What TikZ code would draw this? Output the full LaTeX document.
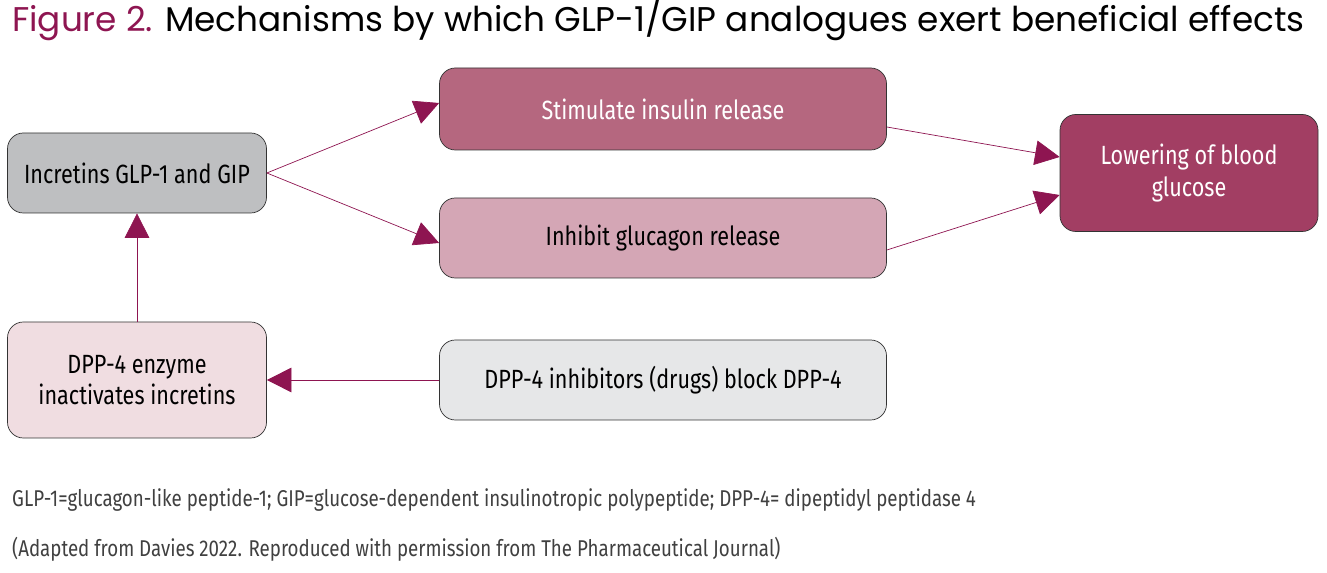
\documentclass[tikz,border=0pt]{standalone}
\usepackage{fontspec}
\setmainfont{Fira Sans}[FakeStretch=0.82]
\newfontfamily\titlefont{Poppins}
\usetikzlibrary{arrows.meta}
\definecolor{plum}{HTML}{8E1551}
\definecolor{stimcol}{HTML}{B5677F}
\definecolor{inhcol}{HTML}{D4A6B5}
\definecolor{lowcol}{HTML}{A23E63}
\definecolor{inccol}{HTML}{BEBFC1}
\definecolor{enzcol}{HTML}{F0DDE1}
\definecolor{drugcol}{HTML}{E6E7E8}
\tikzset{
  box/.style={draw=black!80,rounded corners=9pt,align=center,inner sep=0pt,font=\fontsize{15}{18}\selectfont},
  link/.style={plum,-{Triangle[length=14pt,width=14pt]}}
}
\begin{document}
\begin{tikzpicture}[x=0.02cm,y=-0.02cm]
    \useasboundingbox (0,0) rectangle (1327,573);
    \node[anchor=west,font=\titlefont\fontsize{19.5}{22}\selectfont] (Title) at (6,20)
      {\textcolor{plum}{Figure 2.} Mechanisms by which GLP-1/GIP analogues exert beneficial effects};

    \node[box,fill=stimcol,text=white,minimum width=447*0.02cm,minimum height=82*0.02cm] (Stim) at (663,109) {Stimulate insulin release};
    \node[box,fill=inhcol,minimum width=447*0.02cm,minimum height=80*0.02cm] (Inh) at (663,238) {Inhibit glucagon release};
    \node[box,fill=lowcol,text=white,minimum width=258*0.02cm,minimum height=117*0.02cm] (Low) at (1189,173) {Lowering of blood\\glucose};
    \node[box,fill=inccol,minimum width=259*0.02cm,minimum height=80*0.02cm] (Inc) at (137,173) {Incretins GLP-1 and GIP};
    \node[box,fill=enzcol,minimum width=259*0.02cm,minimum height=116*0.02cm] (Enz) at (137,380) {DPP-4 enzyme\\inactivates incretins};
    \node[box,fill=drugcol,minimum width=447*0.02cm,minimum height=80*0.02cm] (Drug) at (663,380) {DPP-4 inhibitors (drugs) block DPP-4};

	\draw[link] (Inc.east) -- (Stim.west |- 0,103);
	\draw[link] (Inc.east) -- (Inh.west |- 0,243);
	\draw[link] (Stim.east |- 0,127) -- (Low.west |- 0,157);
	\draw[link] (Inh.east |- 0,250) -- (Low.west |- 0,195);
	\draw[link] (Enz.north) -- (Inc.south);
	\draw[link] (Drug.west) -- (Enz.east);

    \node[anchor=west,font=\fontsize{13}{16}\selectfont,text=black!75] (Abbr) at (6,500)
      {GLP-1=glucagon-like peptide-1; GIP=glucose-dependent insulinotropic polypeptide; DPP-4= dipeptidyl peptidase 4};
    \node[anchor=west,font=\fontsize{13}{16}\selectfont,text=black!75] (Src) at (6,549)
      {(Adapted from Davies 2022. Reproduced with permission from The Pharmaceutical Journal)};
  \end{tikzpicture}
\end{document}
